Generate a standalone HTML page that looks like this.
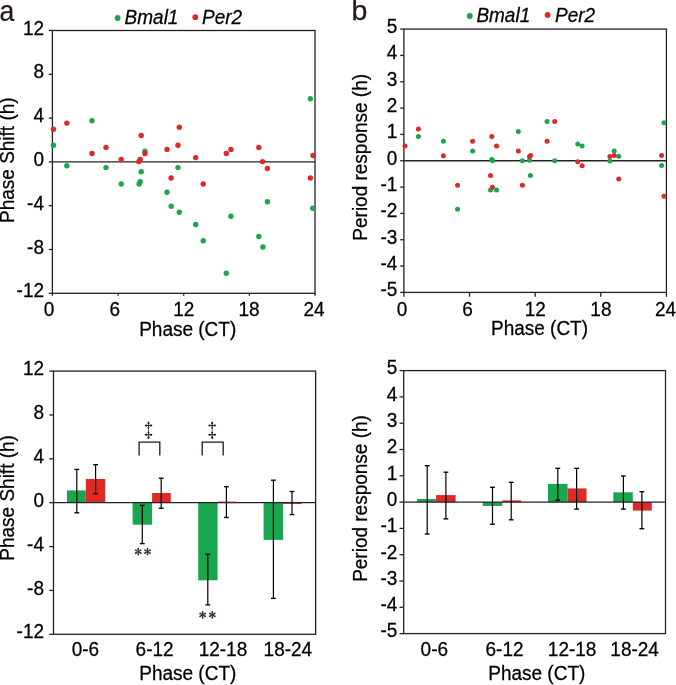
<!DOCTYPE html>
<html><head><meta charset="utf-8"><title>Figure</title>
<style>
html,body{margin:0;padding:0;background:#fff;}
body{width:676px;height:685px;overflow:hidden;font-family:"Liberation Sans", sans-serif;}
svg{display:block;will-change:transform;}
</style></head>
<body>
<svg width="676" height="685" viewBox="0 0 676 685">
<rect x="0" y="0" width="676" height="685" fill="#fff"/>
<text x="0" y="0" font-size="29.5" text-anchor="start" font-family='"Liberation Sans", sans-serif' fill="#231815" stroke="#231815" stroke-width="0.25" transform="translate(-0.60 20.60) scale(0.9 1.0)" >a</text>
<text x="0" y="0" font-size="28.5" text-anchor="start" font-family='"Liberation Sans", sans-serif' fill="#231815" stroke="#231815" stroke-width="0.25" transform="translate(351.50 20.30)" >b</text>
<circle cx="117.60" cy="18.00" r="2.9" fill="#1aa64f"/>
<text x="0" y="0" font-size="19" text-anchor="start" font-family='"Liberation Sans", sans-serif' fill="#000" stroke="#000" stroke-width="0.25" transform="translate(124.60 24.00) scale(1.0 1.07)" font-style="italic">Bmal1</text>
<circle cx="195.30" cy="17.20" r="2.9" fill="#dd2a26"/>
<text x="0" y="0" font-size="19" text-anchor="start" font-family='"Liberation Sans", sans-serif' fill="#000" stroke="#000" stroke-width="0.25" transform="translate(202.00 24.00) scale(1.0 1.07)" font-style="italic">Per2</text>
<circle cx="469.80" cy="16.00" r="2.9" fill="#1aa64f"/>
<text x="0" y="0" font-size="19" text-anchor="start" font-family='"Liberation Sans", sans-serif' fill="#000" stroke="#000" stroke-width="0.25" transform="translate(476.40 22.00) scale(1.0 1.07)" font-style="italic">Bmal1</text>
<circle cx="547.60" cy="15.00" r="2.9" fill="#dd2a26"/>
<text x="0" y="0" font-size="19" text-anchor="start" font-family='"Liberation Sans", sans-serif' fill="#000" stroke="#000" stroke-width="0.25" transform="translate(555.00 22.00) scale(1.0 1.07)" font-style="italic">Per2</text>
<rect x="52.40" y="30.50" width="262.60" height="262.80" fill="none" stroke="#222" stroke-width="1.3"/>
<line x1="52.40" y1="161.90" x2="315.00" y2="161.90" stroke="#222" stroke-width="1.3"/>
<line x1="48.80" y1="30.50" x2="52.40" y2="30.50" stroke="#222" stroke-width="1.3"/>
<text x="0" y="0" font-size="19" text-anchor="end" font-family='"Liberation Sans", sans-serif' fill="#000" stroke="#000" stroke-width="0.25" transform="translate(44.00 34.60) scale(1.0 1.07)" >12</text>
<line x1="48.80" y1="74.30" x2="52.40" y2="74.30" stroke="#222" stroke-width="1.3"/>
<text x="0" y="0" font-size="19" text-anchor="end" font-family='"Liberation Sans", sans-serif' fill="#000" stroke="#000" stroke-width="0.25" transform="translate(44.00 78.40) scale(1.0 1.07)" >8</text>
<line x1="48.80" y1="118.10" x2="52.40" y2="118.10" stroke="#222" stroke-width="1.3"/>
<text x="0" y="0" font-size="19" text-anchor="end" font-family='"Liberation Sans", sans-serif' fill="#000" stroke="#000" stroke-width="0.25" transform="translate(44.00 122.20) scale(1.0 1.07)" >4</text>
<line x1="48.80" y1="161.90" x2="52.40" y2="161.90" stroke="#222" stroke-width="1.3"/>
<text x="0" y="0" font-size="19" text-anchor="end" font-family='"Liberation Sans", sans-serif' fill="#000" stroke="#000" stroke-width="0.25" transform="translate(44.00 166.00) scale(1.0 1.07)" >0</text>
<line x1="48.80" y1="205.70" x2="52.40" y2="205.70" stroke="#222" stroke-width="1.3"/>
<text x="0" y="0" font-size="19" text-anchor="end" font-family='"Liberation Sans", sans-serif' fill="#000" stroke="#000" stroke-width="0.25" transform="translate(44.00 209.80) scale(1.0 1.07)" >-4</text>
<line x1="48.80" y1="249.50" x2="52.40" y2="249.50" stroke="#222" stroke-width="1.3"/>
<text x="0" y="0" font-size="19" text-anchor="end" font-family='"Liberation Sans", sans-serif' fill="#000" stroke="#000" stroke-width="0.25" transform="translate(44.00 253.60) scale(1.0 1.07)" >-8</text>
<line x1="48.80" y1="293.30" x2="52.40" y2="293.30" stroke="#222" stroke-width="1.3"/>
<text x="0" y="0" font-size="19" text-anchor="end" font-family='"Liberation Sans", sans-serif' fill="#000" stroke="#000" stroke-width="0.25" transform="translate(44.00 297.40) scale(1.0 1.07)" >-12</text>
<line x1="52.40" y1="293.30" x2="52.40" y2="295.80" stroke="#222" stroke-width="1.3"/>
<line x1="118.05" y1="293.30" x2="118.05" y2="295.80" stroke="#222" stroke-width="1.3"/>
<line x1="183.70" y1="293.30" x2="183.70" y2="295.80" stroke="#222" stroke-width="1.3"/>
<line x1="249.35" y1="293.30" x2="249.35" y2="295.80" stroke="#222" stroke-width="1.3"/>
<line x1="315.00" y1="293.30" x2="315.00" y2="295.80" stroke="#222" stroke-width="1.3"/>
<text x="0" y="0" font-size="19" text-anchor="middle" font-family='"Liberation Sans", sans-serif' fill="#000" stroke="#000" stroke-width="0.25" transform="translate(49.10 315.60) scale(1.0 1.07)" >0</text>
<text x="0" y="0" font-size="19" text-anchor="middle" font-family='"Liberation Sans", sans-serif' fill="#000" stroke="#000" stroke-width="0.25" transform="translate(114.90 315.60) scale(1.0 1.07)" >6</text>
<text x="0" y="0" font-size="19" text-anchor="middle" font-family='"Liberation Sans", sans-serif' fill="#000" stroke="#000" stroke-width="0.25" transform="translate(183.70 315.60) scale(1.0 1.07)" >12</text>
<text x="0" y="0" font-size="19" text-anchor="middle" font-family='"Liberation Sans", sans-serif' fill="#000" stroke="#000" stroke-width="0.25" transform="translate(249.00 315.60) scale(1.0 1.07)" >18</text>
<text x="0" y="0" font-size="19" text-anchor="middle" font-family='"Liberation Sans", sans-serif' fill="#000" stroke="#000" stroke-width="0.25" transform="translate(314.10 315.60) scale(1.0 1.07)" >24</text>
<text x="0" y="0" font-size="19" text-anchor="middle" font-family='"Liberation Sans", sans-serif' fill="#000" stroke="#000" stroke-width="0.25" transform="translate(187.70 335.80) scale(1.0 1.07)" >Phase (CT)</text>
<text x="0" y="0" font-size="19" text-anchor="middle" font-family='"Liberation Sans", sans-serif' fill="#000" stroke="#000" stroke-width="0.25" transform="translate(14.20 160.20) rotate(-90) scale(1.0 1.07)" >Phase Shift (h)</text>
<circle cx="92.00" cy="120.80" r="2.7" fill="#1aa64f"/>
<circle cx="53.40" cy="145.30" r="2.7" fill="#1aa64f"/>
<circle cx="66.80" cy="165.70" r="2.7" fill="#1aa64f"/>
<circle cx="106.00" cy="167.60" r="2.7" fill="#1aa64f"/>
<circle cx="121.20" cy="184.00" r="2.7" fill="#1aa64f"/>
<circle cx="145.00" cy="151.30" r="2.7" fill="#1aa64f"/>
<circle cx="178.00" cy="167.60" r="2.7" fill="#1aa64f"/>
<circle cx="141.20" cy="171.70" r="2.7" fill="#1aa64f"/>
<circle cx="140.20" cy="181.70" r="2.7" fill="#1aa64f"/>
<circle cx="139.10" cy="184.00" r="2.7" fill="#1aa64f"/>
<circle cx="167.00" cy="192.20" r="2.7" fill="#1aa64f"/>
<circle cx="171.20" cy="206.30" r="2.7" fill="#1aa64f"/>
<circle cx="179.30" cy="212.30" r="2.7" fill="#1aa64f"/>
<circle cx="195.70" cy="224.50" r="2.7" fill="#1aa64f"/>
<circle cx="203.20" cy="240.80" r="2.7" fill="#1aa64f"/>
<circle cx="267.40" cy="201.80" r="2.7" fill="#1aa64f"/>
<circle cx="230.90" cy="216.30" r="2.7" fill="#1aa64f"/>
<circle cx="258.80" cy="236.50" r="2.7" fill="#1aa64f"/>
<circle cx="262.90" cy="247.00" r="2.7" fill="#1aa64f"/>
<circle cx="226.30" cy="273.30" r="2.7" fill="#1aa64f"/>
<circle cx="310.40" cy="98.70" r="2.7" fill="#1aa64f"/>
<circle cx="312.80" cy="208.30" r="2.7" fill="#1aa64f"/>
<circle cx="53.40" cy="129.30" r="2.7" fill="#dd2a26"/>
<circle cx="66.80" cy="123.10" r="2.7" fill="#dd2a26"/>
<circle cx="106.00" cy="147.40" r="2.7" fill="#dd2a26"/>
<circle cx="92.00" cy="153.50" r="2.7" fill="#dd2a26"/>
<circle cx="121.20" cy="159.50" r="2.7" fill="#dd2a26"/>
<circle cx="141.20" cy="135.40" r="2.7" fill="#dd2a26"/>
<circle cx="179.30" cy="127.20" r="2.7" fill="#dd2a26"/>
<circle cx="178.00" cy="145.30" r="2.7" fill="#dd2a26"/>
<circle cx="167.00" cy="149.40" r="2.7" fill="#dd2a26"/>
<circle cx="145.00" cy="153.50" r="2.7" fill="#dd2a26"/>
<circle cx="140.20" cy="159.50" r="2.7" fill="#dd2a26"/>
<circle cx="138.80" cy="161.60" r="2.7" fill="#dd2a26"/>
<circle cx="195.70" cy="157.60" r="2.7" fill="#dd2a26"/>
<circle cx="171.10" cy="178.00" r="2.7" fill="#dd2a26"/>
<circle cx="203.20" cy="184.00" r="2.7" fill="#dd2a26"/>
<circle cx="226.30" cy="153.50" r="2.7" fill="#dd2a26"/>
<circle cx="230.90" cy="149.40" r="2.7" fill="#dd2a26"/>
<circle cx="258.80" cy="147.40" r="2.7" fill="#dd2a26"/>
<circle cx="262.60" cy="161.60" r="2.7" fill="#dd2a26"/>
<circle cx="267.40" cy="168.50" r="2.7" fill="#dd2a26"/>
<circle cx="313.00" cy="155.50" r="2.7" fill="#dd2a26"/>
<circle cx="310.40" cy="178.00" r="2.7" fill="#dd2a26"/>
<rect x="403.90" y="29.10" width="262.50" height="263.30" fill="none" stroke="#222" stroke-width="1.3"/>
<line x1="403.90" y1="160.75" x2="666.40" y2="160.75" stroke="#222" stroke-width="1.3"/>
<line x1="400.20" y1="29.10" x2="403.90" y2="29.10" stroke="#222" stroke-width="1.3"/>
<text x="0" y="0" font-size="19" text-anchor="end" font-family='"Liberation Sans", sans-serif' fill="#000" stroke="#000" stroke-width="0.25" transform="translate(397.30 32.90) scale(1.0 1.07)" >5</text>
<line x1="400.20" y1="55.43" x2="403.90" y2="55.43" stroke="#222" stroke-width="1.3"/>
<text x="0" y="0" font-size="19" text-anchor="end" font-family='"Liberation Sans", sans-serif' fill="#000" stroke="#000" stroke-width="0.25" transform="translate(397.30 59.23) scale(1.0 1.07)" >4</text>
<line x1="400.20" y1="81.76" x2="403.90" y2="81.76" stroke="#222" stroke-width="1.3"/>
<text x="0" y="0" font-size="19" text-anchor="end" font-family='"Liberation Sans", sans-serif' fill="#000" stroke="#000" stroke-width="0.25" transform="translate(397.30 85.56) scale(1.0 1.07)" >3</text>
<line x1="400.20" y1="108.09" x2="403.90" y2="108.09" stroke="#222" stroke-width="1.3"/>
<text x="0" y="0" font-size="19" text-anchor="end" font-family='"Liberation Sans", sans-serif' fill="#000" stroke="#000" stroke-width="0.25" transform="translate(397.30 111.89) scale(1.0 1.07)" >2</text>
<line x1="400.20" y1="134.42" x2="403.90" y2="134.42" stroke="#222" stroke-width="1.3"/>
<text x="0" y="0" font-size="19" text-anchor="end" font-family='"Liberation Sans", sans-serif' fill="#000" stroke="#000" stroke-width="0.25" transform="translate(397.30 138.22) scale(1.0 1.07)" >1</text>
<line x1="400.20" y1="160.75" x2="403.90" y2="160.75" stroke="#222" stroke-width="1.3"/>
<text x="0" y="0" font-size="19" text-anchor="end" font-family='"Liberation Sans", sans-serif' fill="#000" stroke="#000" stroke-width="0.25" transform="translate(397.30 164.55) scale(1.0 1.07)" >0</text>
<line x1="400.20" y1="187.08" x2="403.90" y2="187.08" stroke="#222" stroke-width="1.3"/>
<text x="0" y="0" font-size="19" text-anchor="end" font-family='"Liberation Sans", sans-serif' fill="#000" stroke="#000" stroke-width="0.25" transform="translate(397.30 190.88) scale(1.0 1.07)" >-1</text>
<line x1="400.20" y1="213.41" x2="403.90" y2="213.41" stroke="#222" stroke-width="1.3"/>
<text x="0" y="0" font-size="19" text-anchor="end" font-family='"Liberation Sans", sans-serif' fill="#000" stroke="#000" stroke-width="0.25" transform="translate(397.30 217.21) scale(1.0 1.07)" >-2</text>
<line x1="400.20" y1="239.74" x2="403.90" y2="239.74" stroke="#222" stroke-width="1.3"/>
<text x="0" y="0" font-size="19" text-anchor="end" font-family='"Liberation Sans", sans-serif' fill="#000" stroke="#000" stroke-width="0.25" transform="translate(397.30 243.54) scale(1.0 1.07)" >-3</text>
<line x1="400.20" y1="266.07" x2="403.90" y2="266.07" stroke="#222" stroke-width="1.3"/>
<text x="0" y="0" font-size="19" text-anchor="end" font-family='"Liberation Sans", sans-serif' fill="#000" stroke="#000" stroke-width="0.25" transform="translate(397.30 269.87) scale(1.0 1.07)" >-4</text>
<line x1="400.20" y1="292.40" x2="403.90" y2="292.40" stroke="#222" stroke-width="1.3"/>
<text x="0" y="0" font-size="19" text-anchor="end" font-family='"Liberation Sans", sans-serif' fill="#000" stroke="#000" stroke-width="0.25" transform="translate(397.30 296.20) scale(1.0 1.07)" >-5</text>
<line x1="403.90" y1="292.40" x2="403.90" y2="296.80" stroke="#222" stroke-width="1.3"/>
<line x1="469.52" y1="292.40" x2="469.52" y2="296.80" stroke="#222" stroke-width="1.3"/>
<line x1="535.15" y1="292.40" x2="535.15" y2="296.80" stroke="#222" stroke-width="1.3"/>
<line x1="600.77" y1="292.40" x2="600.77" y2="296.80" stroke="#222" stroke-width="1.3"/>
<line x1="666.40" y1="292.40" x2="666.40" y2="296.80" stroke="#222" stroke-width="1.3"/>
<text x="0" y="0" font-size="19" text-anchor="middle" font-family='"Liberation Sans", sans-serif' fill="#000" stroke="#000" stroke-width="0.25" transform="translate(402.00 315.60) scale(1.0 1.07)" >0</text>
<text x="0" y="0" font-size="19" text-anchor="middle" font-family='"Liberation Sans", sans-serif' fill="#000" stroke="#000" stroke-width="0.25" transform="translate(467.60 315.60) scale(1.0 1.07)" >6</text>
<text x="0" y="0" font-size="19" text-anchor="middle" font-family='"Liberation Sans", sans-serif' fill="#000" stroke="#000" stroke-width="0.25" transform="translate(535.30 315.60) scale(1.0 1.07)" >12</text>
<text x="0" y="0" font-size="19" text-anchor="middle" font-family='"Liberation Sans", sans-serif' fill="#000" stroke="#000" stroke-width="0.25" transform="translate(600.90 315.60) scale(1.0 1.07)" >18</text>
<text x="0" y="0" font-size="19" text-anchor="middle" font-family='"Liberation Sans", sans-serif' fill="#000" stroke="#000" stroke-width="0.25" transform="translate(665.60 315.60) scale(1.0 1.07)" >24</text>
<text x="0" y="0" font-size="19" text-anchor="middle" font-family='"Liberation Sans", sans-serif' fill="#000" stroke="#000" stroke-width="0.25" transform="translate(539.50 335.40) scale(1.0 1.07)" >Phase (CT)</text>
<text x="0" y="0" font-size="19" text-anchor="middle" font-family='"Liberation Sans", sans-serif' fill="#000" stroke="#000" stroke-width="0.25" transform="translate(367.20 157.30) rotate(-90) scale(1.0 1.07)" >Period response (h)</text>
<circle cx="418.40" cy="136.40" r="2.5" fill="#1aa64f"/>
<circle cx="443.40" cy="141.30" r="2.5" fill="#1aa64f"/>
<circle cx="472.60" cy="150.90" r="2.5" fill="#1aa64f"/>
<circle cx="491.80" cy="159.50" r="2.5" fill="#1aa64f"/>
<circle cx="492.60" cy="160.70" r="2.5" fill="#1aa64f"/>
<circle cx="518.30" cy="131.40" r="2.5" fill="#1aa64f"/>
<circle cx="522.40" cy="160.70" r="2.5" fill="#1aa64f"/>
<circle cx="529.50" cy="160.20" r="2.5" fill="#1aa64f"/>
<circle cx="530.40" cy="175.40" r="2.5" fill="#1aa64f"/>
<circle cx="547.10" cy="121.60" r="2.5" fill="#1aa64f"/>
<circle cx="554.70" cy="160.70" r="2.5" fill="#1aa64f"/>
<circle cx="577.70" cy="144.00" r="2.5" fill="#1aa64f"/>
<circle cx="582.10" cy="146.00" r="2.5" fill="#1aa64f"/>
<circle cx="614.20" cy="150.90" r="2.5" fill="#1aa64f"/>
<circle cx="618.70" cy="156.30" r="2.5" fill="#1aa64f"/>
<circle cx="664.00" cy="122.80" r="2.5" fill="#1aa64f"/>
<circle cx="661.60" cy="165.40" r="2.5" fill="#1aa64f"/>
<circle cx="457.50" cy="209.30" r="2.5" fill="#1aa64f"/>
<circle cx="490.50" cy="190.10" r="2.5" fill="#1aa64f"/>
<circle cx="496.50" cy="190.10" r="2.5" fill="#1aa64f"/>
<circle cx="405.00" cy="146.00" r="2.5" fill="#dd2a26"/>
<circle cx="418.40" cy="129.00" r="2.5" fill="#dd2a26"/>
<circle cx="443.40" cy="155.80" r="2.5" fill="#dd2a26"/>
<circle cx="472.60" cy="141.30" r="2.5" fill="#dd2a26"/>
<circle cx="491.80" cy="136.40" r="2.5" fill="#dd2a26"/>
<circle cx="496.50" cy="146.00" r="2.5" fill="#dd2a26"/>
<circle cx="490.50" cy="175.40" r="2.5" fill="#dd2a26"/>
<circle cx="518.30" cy="150.90" r="2.5" fill="#dd2a26"/>
<circle cx="529.50" cy="156.60" r="2.5" fill="#dd2a26"/>
<circle cx="530.60" cy="155.60" r="2.5" fill="#dd2a26"/>
<circle cx="554.70" cy="121.60" r="2.5" fill="#dd2a26"/>
<circle cx="547.10" cy="141.30" r="2.5" fill="#dd2a26"/>
<circle cx="577.70" cy="161.80" r="2.5" fill="#dd2a26"/>
<circle cx="582.10" cy="165.70" r="2.5" fill="#dd2a26"/>
<circle cx="609.90" cy="156.60" r="2.5" fill="#dd2a26"/>
<circle cx="614.20" cy="155.60" r="2.5" fill="#dd2a26"/>
<circle cx="618.70" cy="178.90" r="2.5" fill="#dd2a26"/>
<circle cx="661.60" cy="155.60" r="2.5" fill="#dd2a26"/>
<circle cx="664.00" cy="196.30" r="2.5" fill="#dd2a26"/>
<circle cx="457.50" cy="185.20" r="2.5" fill="#dd2a26"/>
<circle cx="492.40" cy="187.30" r="2.5" fill="#dd2a26"/>
<circle cx="522.40" cy="185.20" r="2.5" fill="#dd2a26"/>
<circle cx="609.90" cy="160.90" r="2.5" fill="#1aa64f"/>
<rect x="53.50" y="371.10" width="262.10" height="263.20" fill="none" stroke="#222" stroke-width="1.3"/>
<line x1="49.30" y1="371.10" x2="53.50" y2="371.10" stroke="#222" stroke-width="1.3"/>
<text x="0" y="0" font-size="19" text-anchor="end" font-family='"Liberation Sans", sans-serif' fill="#000" stroke="#000" stroke-width="0.25" transform="translate(44.00 375.20) scale(1.0 1.07)" >12</text>
<line x1="49.30" y1="414.97" x2="53.50" y2="414.97" stroke="#222" stroke-width="1.3"/>
<text x="0" y="0" font-size="19" text-anchor="end" font-family='"Liberation Sans", sans-serif' fill="#000" stroke="#000" stroke-width="0.25" transform="translate(44.00 419.07) scale(1.0 1.07)" >8</text>
<line x1="49.30" y1="458.83" x2="53.50" y2="458.83" stroke="#222" stroke-width="1.3"/>
<text x="0" y="0" font-size="19" text-anchor="end" font-family='"Liberation Sans", sans-serif' fill="#000" stroke="#000" stroke-width="0.25" transform="translate(44.00 462.93) scale(1.0 1.07)" >4</text>
<line x1="49.30" y1="502.70" x2="53.50" y2="502.70" stroke="#222" stroke-width="1.3"/>
<text x="0" y="0" font-size="19" text-anchor="end" font-family='"Liberation Sans", sans-serif' fill="#000" stroke="#000" stroke-width="0.25" transform="translate(44.00 506.80) scale(1.0 1.07)" >0</text>
<line x1="49.30" y1="546.57" x2="53.50" y2="546.57" stroke="#222" stroke-width="1.3"/>
<text x="0" y="0" font-size="19" text-anchor="end" font-family='"Liberation Sans", sans-serif' fill="#000" stroke="#000" stroke-width="0.25" transform="translate(44.00 550.67) scale(1.0 1.07)" >-4</text>
<line x1="49.30" y1="590.43" x2="53.50" y2="590.43" stroke="#222" stroke-width="1.3"/>
<text x="0" y="0" font-size="19" text-anchor="end" font-family='"Liberation Sans", sans-serif' fill="#000" stroke="#000" stroke-width="0.25" transform="translate(44.00 594.53) scale(1.0 1.07)" >-8</text>
<line x1="49.30" y1="634.30" x2="53.50" y2="634.30" stroke="#222" stroke-width="1.3"/>
<text x="0" y="0" font-size="19" text-anchor="end" font-family='"Liberation Sans", sans-serif' fill="#000" stroke="#000" stroke-width="0.25" transform="translate(44.00 638.40) scale(1.0 1.07)" >-12</text>
<rect x="66.90" y="490.40" width="18.90" height="12.30" fill="#1aa64f"/>
<rect x="85.80" y="479.00" width="19.40" height="23.70" fill="#dd2a26"/>
<rect x="132.60" y="502.70" width="19.50" height="22.00" fill="#1aa64f"/>
<rect x="152.10" y="493.00" width="18.70" height="9.70" fill="#dd2a26"/>
<rect x="198.20" y="502.70" width="19.40" height="77.60" fill="#1aa64f"/>
<rect x="217.60" y="501.60" width="18.40" height="1.10" fill="#dd2a26"/>
<rect x="263.60" y="502.70" width="19.40" height="37.20" fill="#1aa64f"/>
<rect x="283.00" y="502.70" width="18.60" height="1.20" fill="#dd2a26"/>
<line x1="53.50" y1="502.70" x2="315.60" y2="502.70" stroke="#222" stroke-width="1.3"/>
<rect x="217.6" y="502.10" width="18.4" height="1.3" fill="#dd2a26" opacity="0.3"/>
<rect x="283.0" y="502.70" width="18.6" height="0.7" fill="#dd2a26" opacity="0.3"/>
<line x1="76.80" y1="469.40" x2="76.80" y2="512.80" stroke="#000" stroke-width="1.2"/>
<line x1="74.40" y1="469.40" x2="79.20" y2="469.40" stroke="#000" stroke-width="1.35"/>
<line x1="74.40" y1="512.80" x2="79.20" y2="512.80" stroke="#000" stroke-width="1.35"/>
<line x1="95.60" y1="464.70" x2="95.60" y2="493.70" stroke="#000" stroke-width="1.2"/>
<line x1="93.20" y1="464.70" x2="98.00" y2="464.70" stroke="#000" stroke-width="1.35"/>
<line x1="93.20" y1="493.70" x2="98.00" y2="493.70" stroke="#000" stroke-width="1.35"/>
<line x1="142.30" y1="505.40" x2="142.30" y2="543.60" stroke="#000" stroke-width="1.2"/>
<line x1="139.90" y1="505.40" x2="144.70" y2="505.40" stroke="#000" stroke-width="1.35"/>
<line x1="139.90" y1="543.60" x2="144.70" y2="543.60" stroke="#000" stroke-width="1.35"/>
<line x1="161.20" y1="478.20" x2="161.20" y2="508.30" stroke="#000" stroke-width="1.2"/>
<line x1="158.80" y1="478.20" x2="163.60" y2="478.20" stroke="#000" stroke-width="1.35"/>
<line x1="158.80" y1="508.30" x2="163.60" y2="508.30" stroke="#000" stroke-width="1.35"/>
<line x1="207.80" y1="554.30" x2="207.80" y2="604.90" stroke="#000" stroke-width="1.2"/>
<line x1="205.40" y1="554.30" x2="210.20" y2="554.30" stroke="#000" stroke-width="1.35"/>
<line x1="205.40" y1="604.90" x2="210.20" y2="604.90" stroke="#000" stroke-width="1.35"/>
<line x1="226.40" y1="486.70" x2="226.40" y2="517.50" stroke="#000" stroke-width="1.2"/>
<line x1="224.00" y1="486.70" x2="228.80" y2="486.70" stroke="#000" stroke-width="1.35"/>
<line x1="224.00" y1="517.50" x2="228.80" y2="517.50" stroke="#000" stroke-width="1.35"/>
<line x1="273.40" y1="480.20" x2="273.40" y2="598.40" stroke="#000" stroke-width="1.2"/>
<line x1="271.00" y1="480.20" x2="275.80" y2="480.20" stroke="#000" stroke-width="1.35"/>
<line x1="271.00" y1="598.40" x2="275.80" y2="598.40" stroke="#000" stroke-width="1.35"/>
<line x1="292.00" y1="491.50" x2="292.00" y2="514.60" stroke="#000" stroke-width="1.2"/>
<line x1="289.60" y1="491.50" x2="294.40" y2="491.50" stroke="#000" stroke-width="1.35"/>
<line x1="289.60" y1="514.60" x2="294.40" y2="514.60" stroke="#000" stroke-width="1.35"/>
<polyline points="139.1,455.6 139.1,442.1 159.8,442.1 159.8,455.6" fill="none" stroke="#231815" stroke-width="1.3"/>
<line x1="148.50" y1="422.40" x2="148.50" y2="438.00" stroke="#231815" stroke-width="0.6"/>
<ellipse cx="148.50" cy="423.00" rx="1.0" ry="1.5" fill="#231815" transform="rotate(0 148.50 423.00)"/>
<ellipse cx="148.50" cy="437.40" rx="1.0" ry="1.5" fill="#231815" transform="rotate(0 148.50 437.40)"/>
<line x1="145.50" y1="425.50" x2="151.50" y2="425.50" stroke="#231815" stroke-width="1.0"/>
<ellipse cx="145.95" cy="425.50" rx="1.25" ry="0.95" fill="#231815" transform="rotate(0 145.95 425.50)"/>
<ellipse cx="151.05" cy="425.50" rx="1.25" ry="0.95" fill="#231815" transform="rotate(0 151.05 425.50)"/>
<line x1="145.50" y1="434.80" x2="151.50" y2="434.80" stroke="#231815" stroke-width="1.0"/>
<ellipse cx="145.95" cy="434.80" rx="1.25" ry="0.95" fill="#231815" transform="rotate(0 145.95 434.80)"/>
<ellipse cx="151.05" cy="434.80" rx="1.25" ry="0.95" fill="#231815" transform="rotate(0 151.05 434.80)"/>
<ellipse cx="148.50" cy="427.60" rx="0.85" ry="1.2" fill="#231815" transform="rotate(0 148.50 427.60)"/>
<ellipse cx="148.50" cy="432.70" rx="0.85" ry="1.2" fill="#231815" transform="rotate(0 148.50 432.70)"/>
<polyline points="202.2,455.6 202.2,442.1 223.2,442.1 223.2,455.6" fill="none" stroke="#231815" stroke-width="1.3"/>
<line x1="212.20" y1="422.40" x2="212.20" y2="438.00" stroke="#231815" stroke-width="0.6"/>
<ellipse cx="212.20" cy="423.00" rx="1.0" ry="1.5" fill="#231815" transform="rotate(0 212.20 423.00)"/>
<ellipse cx="212.20" cy="437.40" rx="1.0" ry="1.5" fill="#231815" transform="rotate(0 212.20 437.40)"/>
<line x1="209.20" y1="425.50" x2="215.20" y2="425.50" stroke="#231815" stroke-width="1.0"/>
<ellipse cx="209.65" cy="425.50" rx="1.25" ry="0.95" fill="#231815" transform="rotate(0 209.65 425.50)"/>
<ellipse cx="214.75" cy="425.50" rx="1.25" ry="0.95" fill="#231815" transform="rotate(0 214.75 425.50)"/>
<line x1="209.20" y1="434.80" x2="215.20" y2="434.80" stroke="#231815" stroke-width="1.0"/>
<ellipse cx="209.65" cy="434.80" rx="1.25" ry="0.95" fill="#231815" transform="rotate(0 209.65 434.80)"/>
<ellipse cx="214.75" cy="434.80" rx="1.25" ry="0.95" fill="#231815" transform="rotate(0 214.75 434.80)"/>
<ellipse cx="212.20" cy="427.60" rx="0.85" ry="1.2" fill="#231815" transform="rotate(0 212.20 427.60)"/>
<ellipse cx="212.20" cy="432.70" rx="0.85" ry="1.2" fill="#231815" transform="rotate(0 212.20 432.70)"/>
<path d="M0,-0.35 L2.75,-0.88 A0.9,0.9 0 1,1 2.75,0.88 L0,0.35 Z" fill="#3a302e" transform="translate(138.20 551.70) rotate(-90)"/>
<path d="M0,-0.35 L2.75,-0.88 A0.9,0.9 0 1,1 2.75,0.88 L0,0.35 Z" fill="#3a302e" transform="translate(138.20 551.70) rotate(-30)"/>
<path d="M0,-0.35 L2.75,-0.88 A0.9,0.9 0 1,1 2.75,0.88 L0,0.35 Z" fill="#3a302e" transform="translate(138.20 551.70) rotate(30)"/>
<path d="M0,-0.35 L2.75,-0.88 A0.9,0.9 0 1,1 2.75,0.88 L0,0.35 Z" fill="#3a302e" transform="translate(138.20 551.70) rotate(90)"/>
<path d="M0,-0.35 L2.75,-0.88 A0.9,0.9 0 1,1 2.75,0.88 L0,0.35 Z" fill="#3a302e" transform="translate(138.20 551.70) rotate(-150)"/>
<path d="M0,-0.35 L2.75,-0.88 A0.9,0.9 0 1,1 2.75,0.88 L0,0.35 Z" fill="#3a302e" transform="translate(138.20 551.70) rotate(-210)"/>
<circle cx="138.20" cy="551.70" r="0.55" fill="#3a302e"/>
<path d="M0,-0.35 L2.75,-0.88 A0.9,0.9 0 1,1 2.75,0.88 L0,0.35 Z" fill="#3a302e" transform="translate(147.50 551.70) rotate(-90)"/>
<path d="M0,-0.35 L2.75,-0.88 A0.9,0.9 0 1,1 2.75,0.88 L0,0.35 Z" fill="#3a302e" transform="translate(147.50 551.70) rotate(-30)"/>
<path d="M0,-0.35 L2.75,-0.88 A0.9,0.9 0 1,1 2.75,0.88 L0,0.35 Z" fill="#3a302e" transform="translate(147.50 551.70) rotate(30)"/>
<path d="M0,-0.35 L2.75,-0.88 A0.9,0.9 0 1,1 2.75,0.88 L0,0.35 Z" fill="#3a302e" transform="translate(147.50 551.70) rotate(90)"/>
<path d="M0,-0.35 L2.75,-0.88 A0.9,0.9 0 1,1 2.75,0.88 L0,0.35 Z" fill="#3a302e" transform="translate(147.50 551.70) rotate(-150)"/>
<path d="M0,-0.35 L2.75,-0.88 A0.9,0.9 0 1,1 2.75,0.88 L0,0.35 Z" fill="#3a302e" transform="translate(147.50 551.70) rotate(-210)"/>
<circle cx="147.50" cy="551.70" r="0.55" fill="#3a302e"/>
<path d="M0,-0.35 L2.75,-0.88 A0.9,0.9 0 1,1 2.75,0.88 L0,0.35 Z" fill="#3a302e" transform="translate(202.60 614.90) rotate(-90)"/>
<path d="M0,-0.35 L2.75,-0.88 A0.9,0.9 0 1,1 2.75,0.88 L0,0.35 Z" fill="#3a302e" transform="translate(202.60 614.90) rotate(-30)"/>
<path d="M0,-0.35 L2.75,-0.88 A0.9,0.9 0 1,1 2.75,0.88 L0,0.35 Z" fill="#3a302e" transform="translate(202.60 614.90) rotate(30)"/>
<path d="M0,-0.35 L2.75,-0.88 A0.9,0.9 0 1,1 2.75,0.88 L0,0.35 Z" fill="#3a302e" transform="translate(202.60 614.90) rotate(90)"/>
<path d="M0,-0.35 L2.75,-0.88 A0.9,0.9 0 1,1 2.75,0.88 L0,0.35 Z" fill="#3a302e" transform="translate(202.60 614.90) rotate(-150)"/>
<path d="M0,-0.35 L2.75,-0.88 A0.9,0.9 0 1,1 2.75,0.88 L0,0.35 Z" fill="#3a302e" transform="translate(202.60 614.90) rotate(-210)"/>
<circle cx="202.60" cy="614.90" r="0.55" fill="#3a302e"/>
<path d="M0,-0.35 L2.75,-0.88 A0.9,0.9 0 1,1 2.75,0.88 L0,0.35 Z" fill="#3a302e" transform="translate(212.30 614.90) rotate(-90)"/>
<path d="M0,-0.35 L2.75,-0.88 A0.9,0.9 0 1,1 2.75,0.88 L0,0.35 Z" fill="#3a302e" transform="translate(212.30 614.90) rotate(-30)"/>
<path d="M0,-0.35 L2.75,-0.88 A0.9,0.9 0 1,1 2.75,0.88 L0,0.35 Z" fill="#3a302e" transform="translate(212.30 614.90) rotate(30)"/>
<path d="M0,-0.35 L2.75,-0.88 A0.9,0.9 0 1,1 2.75,0.88 L0,0.35 Z" fill="#3a302e" transform="translate(212.30 614.90) rotate(90)"/>
<path d="M0,-0.35 L2.75,-0.88 A0.9,0.9 0 1,1 2.75,0.88 L0,0.35 Z" fill="#3a302e" transform="translate(212.30 614.90) rotate(-150)"/>
<path d="M0,-0.35 L2.75,-0.88 A0.9,0.9 0 1,1 2.75,0.88 L0,0.35 Z" fill="#3a302e" transform="translate(212.30 614.90) rotate(-210)"/>
<circle cx="212.30" cy="614.90" r="0.55" fill="#3a302e"/>
<text x="0" y="0" font-size="19" text-anchor="middle" font-family='"Liberation Sans", sans-serif' fill="#000" stroke="#000" stroke-width="0.25" transform="translate(85.35 655.80) scale(1.0 1.07)" >0-6</text>
<text x="0" y="0" font-size="19" text-anchor="middle" font-family='"Liberation Sans", sans-serif' fill="#000" stroke="#000" stroke-width="0.25" transform="translate(154.60 655.80) scale(1.0 1.07)" >6-12</text>
<text x="0" y="0" font-size="19" text-anchor="middle" font-family='"Liberation Sans", sans-serif' fill="#000" stroke="#000" stroke-width="0.25" transform="translate(222.95 655.80) scale(1.0 1.07)" >12-18</text>
<text x="0" y="0" font-size="19" text-anchor="middle" font-family='"Liberation Sans", sans-serif' fill="#000" stroke="#000" stroke-width="0.25" transform="translate(287.85 655.80) scale(1.0 1.07)" >18-24</text>
<text x="0" y="0" font-size="19" text-anchor="middle" font-family='"Liberation Sans", sans-serif' fill="#000" stroke="#000" stroke-width="0.25" transform="translate(187.80 679.60) scale(1.0 1.07)" >Phase (CT)</text>
<text x="0" y="0" font-size="19" text-anchor="middle" font-family='"Liberation Sans", sans-serif' fill="#000" stroke="#000" stroke-width="0.25" transform="translate(14.30 497.90) rotate(-90) scale(1.0 1.07)" >Phase Shift (h)</text>
<rect x="403.70" y="370.60" width="261.80" height="263.00" fill="none" stroke="#222" stroke-width="1.3"/>
<line x1="399.50" y1="370.60" x2="403.70" y2="370.60" stroke="#222" stroke-width="1.3"/>
<text x="0" y="0" font-size="19" text-anchor="end" font-family='"Liberation Sans", sans-serif' fill="#000" stroke="#000" stroke-width="0.25" transform="translate(397.30 374.40) scale(1.0 1.07)" >5</text>
<line x1="399.50" y1="396.90" x2="403.70" y2="396.90" stroke="#222" stroke-width="1.3"/>
<text x="0" y="0" font-size="19" text-anchor="end" font-family='"Liberation Sans", sans-serif' fill="#000" stroke="#000" stroke-width="0.25" transform="translate(397.30 400.70) scale(1.0 1.07)" >4</text>
<line x1="399.50" y1="423.20" x2="403.70" y2="423.20" stroke="#222" stroke-width="1.3"/>
<text x="0" y="0" font-size="19" text-anchor="end" font-family='"Liberation Sans", sans-serif' fill="#000" stroke="#000" stroke-width="0.25" transform="translate(397.30 427.00) scale(1.0 1.07)" >3</text>
<line x1="399.50" y1="449.50" x2="403.70" y2="449.50" stroke="#222" stroke-width="1.3"/>
<text x="0" y="0" font-size="19" text-anchor="end" font-family='"Liberation Sans", sans-serif' fill="#000" stroke="#000" stroke-width="0.25" transform="translate(397.30 453.30) scale(1.0 1.07)" >2</text>
<line x1="399.50" y1="475.80" x2="403.70" y2="475.80" stroke="#222" stroke-width="1.3"/>
<text x="0" y="0" font-size="19" text-anchor="end" font-family='"Liberation Sans", sans-serif' fill="#000" stroke="#000" stroke-width="0.25" transform="translate(397.30 479.60) scale(1.0 1.07)" >1</text>
<line x1="399.50" y1="502.10" x2="403.70" y2="502.10" stroke="#222" stroke-width="1.3"/>
<text x="0" y="0" font-size="19" text-anchor="end" font-family='"Liberation Sans", sans-serif' fill="#000" stroke="#000" stroke-width="0.25" transform="translate(397.30 505.90) scale(1.0 1.07)" >0</text>
<line x1="399.50" y1="528.40" x2="403.70" y2="528.40" stroke="#222" stroke-width="1.3"/>
<text x="0" y="0" font-size="19" text-anchor="end" font-family='"Liberation Sans", sans-serif' fill="#000" stroke="#000" stroke-width="0.25" transform="translate(397.30 532.20) scale(1.0 1.07)" >-1</text>
<line x1="399.50" y1="554.70" x2="403.70" y2="554.70" stroke="#222" stroke-width="1.3"/>
<text x="0" y="0" font-size="19" text-anchor="end" font-family='"Liberation Sans", sans-serif' fill="#000" stroke="#000" stroke-width="0.25" transform="translate(397.30 558.50) scale(1.0 1.07)" >-2</text>
<line x1="399.50" y1="581.00" x2="403.70" y2="581.00" stroke="#222" stroke-width="1.3"/>
<text x="0" y="0" font-size="19" text-anchor="end" font-family='"Liberation Sans", sans-serif' fill="#000" stroke="#000" stroke-width="0.25" transform="translate(397.30 584.80) scale(1.0 1.07)" >-3</text>
<line x1="399.50" y1="607.30" x2="403.70" y2="607.30" stroke="#222" stroke-width="1.3"/>
<text x="0" y="0" font-size="19" text-anchor="end" font-family='"Liberation Sans", sans-serif' fill="#000" stroke="#000" stroke-width="0.25" transform="translate(397.30 611.10) scale(1.0 1.07)" >-4</text>
<line x1="399.50" y1="633.60" x2="403.70" y2="633.60" stroke="#222" stroke-width="1.3"/>
<text x="0" y="0" font-size="19" text-anchor="end" font-family='"Liberation Sans", sans-serif' fill="#000" stroke="#000" stroke-width="0.25" transform="translate(397.30 637.40) scale(1.0 1.07)" >-5</text>
<rect x="417.10" y="499.00" width="19.00" height="3.10" fill="#1aa64f"/>
<rect x="436.10" y="495.10" width="19.50" height="7.00" fill="#dd2a26"/>
<rect x="482.80" y="502.10" width="19.50" height="3.90" fill="#1aa64f"/>
<rect x="502.30" y="500.40" width="18.70" height="1.70" fill="#dd2a26"/>
<rect x="548.00" y="483.90" width="19.50" height="18.20" fill="#1aa64f"/>
<rect x="567.50" y="488.40" width="19.00" height="13.70" fill="#dd2a26"/>
<rect x="613.30" y="492.30" width="19.50" height="9.80" fill="#1aa64f"/>
<rect x="632.80" y="502.10" width="19.00" height="8.50" fill="#dd2a26"/>
<line x1="403.70" y1="502.10" x2="665.50" y2="502.10" stroke="#222" stroke-width="1.3"/>
<line x1="427.20" y1="465.70" x2="427.20" y2="534.00" stroke="#000" stroke-width="1.2"/>
<line x1="424.80" y1="465.70" x2="429.60" y2="465.70" stroke="#000" stroke-width="1.35"/>
<line x1="424.80" y1="534.00" x2="429.60" y2="534.00" stroke="#000" stroke-width="1.35"/>
<line x1="445.90" y1="472.20" x2="445.90" y2="518.90" stroke="#000" stroke-width="1.2"/>
<line x1="443.50" y1="472.20" x2="448.30" y2="472.20" stroke="#000" stroke-width="1.35"/>
<line x1="443.50" y1="518.90" x2="448.30" y2="518.90" stroke="#000" stroke-width="1.35"/>
<line x1="492.50" y1="487.30" x2="492.50" y2="524.20" stroke="#000" stroke-width="1.2"/>
<line x1="490.10" y1="487.30" x2="494.90" y2="487.30" stroke="#000" stroke-width="1.35"/>
<line x1="490.10" y1="524.20" x2="494.90" y2="524.20" stroke="#000" stroke-width="1.35"/>
<line x1="511.20" y1="482.30" x2="511.20" y2="519.80" stroke="#000" stroke-width="1.2"/>
<line x1="508.80" y1="482.30" x2="513.60" y2="482.30" stroke="#000" stroke-width="1.35"/>
<line x1="508.80" y1="519.80" x2="513.60" y2="519.80" stroke="#000" stroke-width="1.35"/>
<line x1="557.80" y1="468.30" x2="557.80" y2="500.30" stroke="#000" stroke-width="1.2"/>
<line x1="555.40" y1="468.30" x2="560.20" y2="468.30" stroke="#000" stroke-width="1.35"/>
<line x1="555.40" y1="500.30" x2="560.20" y2="500.30" stroke="#000" stroke-width="1.35"/>
<line x1="576.60" y1="468.30" x2="576.60" y2="509.10" stroke="#000" stroke-width="1.2"/>
<line x1="574.20" y1="468.30" x2="579.00" y2="468.30" stroke="#000" stroke-width="1.35"/>
<line x1="574.20" y1="509.10" x2="579.00" y2="509.10" stroke="#000" stroke-width="1.35"/>
<line x1="623.40" y1="476.00" x2="623.40" y2="509.10" stroke="#000" stroke-width="1.2"/>
<line x1="621.00" y1="476.00" x2="625.80" y2="476.00" stroke="#000" stroke-width="1.35"/>
<line x1="621.00" y1="509.10" x2="625.80" y2="509.10" stroke="#000" stroke-width="1.35"/>
<line x1="641.90" y1="491.70" x2="641.90" y2="528.70" stroke="#000" stroke-width="1.2"/>
<line x1="639.50" y1="491.70" x2="644.30" y2="491.70" stroke="#000" stroke-width="1.35"/>
<line x1="639.50" y1="528.70" x2="644.30" y2="528.70" stroke="#000" stroke-width="1.35"/>
<text x="0" y="0" font-size="19" text-anchor="middle" font-family='"Liberation Sans", sans-serif' fill="#000" stroke="#000" stroke-width="0.25" transform="translate(434.30 655.80) scale(1.0 1.07)" >0-6</text>
<text x="0" y="0" font-size="19" text-anchor="middle" font-family='"Liberation Sans", sans-serif' fill="#000" stroke="#000" stroke-width="0.25" transform="translate(504.50 655.80) scale(1.0 1.07)" >6-12</text>
<text x="0" y="0" font-size="19" text-anchor="middle" font-family='"Liberation Sans", sans-serif' fill="#000" stroke="#000" stroke-width="0.25" transform="translate(572.10 655.80) scale(1.0 1.07)" >12-18</text>
<text x="0" y="0" font-size="19" text-anchor="middle" font-family='"Liberation Sans", sans-serif' fill="#000" stroke="#000" stroke-width="0.25" transform="translate(634.60 655.80) scale(1.0 1.07)" >18-24</text>
<text x="0" y="0" font-size="19" text-anchor="middle" font-family='"Liberation Sans", sans-serif' fill="#000" stroke="#000" stroke-width="0.25" transform="translate(536.80 679.80) scale(1.0 1.07)" >Phase (CT)</text>
<text x="0" y="0" font-size="19" text-anchor="middle" font-family='"Liberation Sans", sans-serif' fill="#000" stroke="#000" stroke-width="0.25" transform="translate(367.20 498.50) rotate(-90) scale(1.0 1.07)" >Period response (h)</text>
</svg>
</body></html>
